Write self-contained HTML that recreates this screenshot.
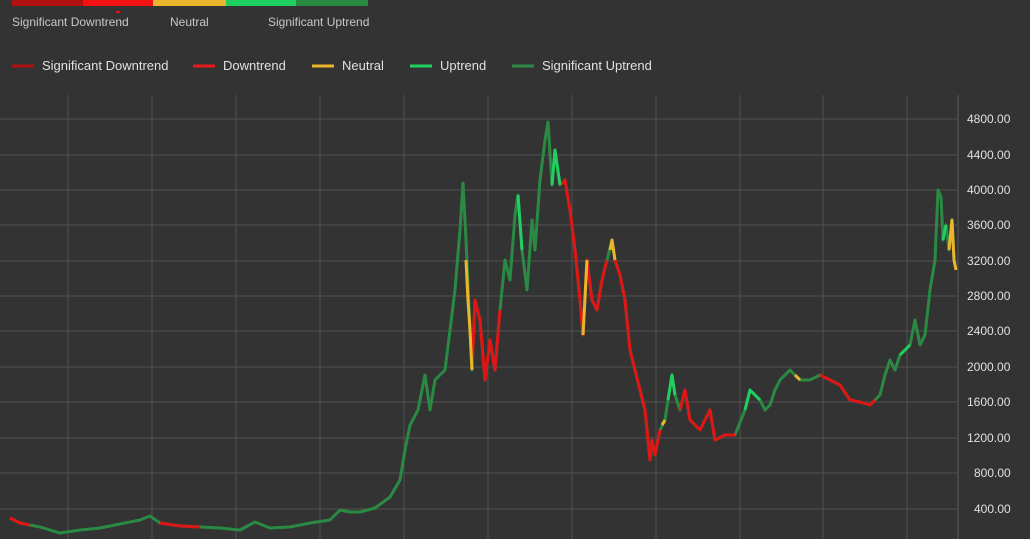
<!DOCTYPE html>
<html><head><style>
body{margin:0;background:#333;width:1030px;height:539px;overflow:hidden;font-family:"Liberation Sans",sans-serif}
</style></head><body>
<svg width="1030" height="539" xmlns="http://www.w3.org/2000/svg" style="position:absolute;left:0;top:0">
<rect width="1030" height="539" fill="#333"/>
<rect x="12" y="0" width="71" height="6" fill="#b01010"/>
<rect x="83" y="0" width="70" height="6" fill="#f21212"/>
<rect x="153" y="0" width="73" height="6" fill="#eab52a"/>
<rect x="226" y="0" width="70" height="6" fill="#1fd060"/>
<rect x="296" y="0" width="72" height="6" fill="#2a8a44"/>
<path d="M115 13 l3 -3 l3 3z" fill="#f21212"/>
<g fill="#c8c8c8" font-size="12">
<text x="12" y="26">Significant Downtrend</text>
<text x="170" y="26">Neutral</text>
<text x="268" y="26">Significant Uptrend</text>
</g>
<g stroke-width="3">
<line x1="12" y1="66" x2="34" y2="66" stroke="#b01010"/>
<line x1="193" y1="66" x2="215" y2="66" stroke="#e81a1a"/>
<line x1="312" y1="66" x2="334" y2="66" stroke="#eab52a"/>
<line x1="410" y1="66" x2="432" y2="66" stroke="#1fd060"/>
<line x1="512" y1="66" x2="534" y2="66" stroke="#2a8a44"/>
</g>
<g fill="#e0e0e0" font-size="13">
<text x="42" y="70">Significant Downtrend</text>
<text x="223" y="70">Downtrend</text>
<text x="342" y="70">Neutral</text>
<text x="440" y="70">Uptrend</text>
<text x="542" y="70">Significant Uptrend</text>
</g>
<g stroke="#505050" stroke-width="1">
<line x1="0" y1="119" x2="958" y2="119"/><line x1="0" y1="155" x2="958" y2="155"/>
<line x1="0" y1="190" x2="958" y2="190"/><line x1="0" y1="225" x2="958" y2="225"/>
<line x1="0" y1="261" x2="958" y2="261"/><line x1="0" y1="296" x2="958" y2="296"/>
<line x1="0" y1="331" x2="958" y2="331"/><line x1="0" y1="367" x2="958" y2="367"/>
<line x1="0" y1="402" x2="958" y2="402"/><line x1="0" y1="438" x2="958" y2="438"/>
<line x1="0" y1="473" x2="958" y2="473"/><line x1="0" y1="509" x2="958" y2="509"/>
<line x1="68" y1="95" x2="68" y2="539"/><line x1="152" y1="95" x2="152" y2="539"/>
<line x1="236" y1="95" x2="236" y2="539"/><line x1="320" y1="95" x2="320" y2="539"/>
<line x1="404" y1="95" x2="404" y2="539"/><line x1="488" y1="95" x2="488" y2="539"/>
<line x1="572" y1="95" x2="572" y2="539"/><line x1="656" y1="95" x2="656" y2="539"/>
<line x1="740" y1="95" x2="740" y2="539"/><line x1="823" y1="95" x2="823" y2="539"/>
<line x1="907" y1="95" x2="907" y2="539"/>
</g>
<line x1="958" y1="95" x2="958" y2="539" stroke="#585858"/>
<g fill="#e0e0e0" font-size="12">
<text x="967" y="123">4800.00</text><text x="967" y="159">4400.00</text>
<text x="967" y="194">4000.00</text><text x="967" y="229">3600.00</text>
<text x="967" y="265">3200.00</text><text x="967" y="300">2800.00</text>
<text x="967" y="335">2400.00</text><text x="967" y="371">2000.00</text>
<text x="967" y="406">1600.00</text><text x="967" y="442">1200.00</text>
<text x="974" y="477">800.00</text><text x="974" y="513">400.00</text>
</g>
<g fill="none" stroke-width="3" stroke-linejoin="round">
<polyline stroke="#2a8a44" points="10,518 20,523 40,527 60,533 80,530 100,528 120,524 140,520 150,516 160,523 180,526 200,527 220,528 240,530 255,522 270,528 290,527 310,523 330,520 340,510 350,512 360,512 375,508 390,497 400,480 405,450 410,425 418,410 425,375 430,410 435,380 445,370 450,330 455,290 460,230 463,183 466,240 470,330 472,370 475,300 480,320 485,380 490,340 495,370 500,310 505,260 510,280 515,215 518,195 522,250 527,290 532,220 535,250 540,180 545,140 548,122 552,185 555,150 560,185 565,180 570,210 575,250 580,300 583,335 587,260 592,300 597,310 602,280 607,260 612,240 615,260 620,275 625,300 630,350 635,370 640,390 645,410 650,460 652,440 655,455 660,430 665,420 668,400 672,375 675,395 680,410 685,390 690,420 700,430 710,410 715,440 725,435 735,435 745,410 750,390 760,400 765,410 770,405 775,390 780,380 790,370 800,380 810,380 820,375 830,380 840,385 850,400 860,402 870,405 880,395 885,375 890,360 895,370 900,355 910,345 915,320 920,345 925,335 930,290 935,260 938,190 941,197 943,240 946,225 949,250 952,220 954,260 956,270"/>
<g stroke="#e01515">
<polyline points="10,518 20,523 30,525"/>
<polyline points="472,370 475,300 480,320 485,380 490,340 495,370 500,310"/>
<polyline points="560,185 565,180 570,210 575,250 580,300 583,335 587,260 592,300 597,310 602,280 607,260"/>
<polyline points="615,260 620,275 625,300 630,350 635,370 640,390 645,410 650,460 652,440 655,455 660,430"/>
<polyline points="680,410 685,390 690,420 700,430 710,410 715,440 725,435 735,435"/>
<polyline points="820,375 830,380 840,385 850,400 860,402 870,405 875,400"/>
<polyline points="160,523 180,526 200,527"/>
</g>
<g stroke="#eab52a">
<polyline points="466,260 468,300 470,330 472,370"/>
<polyline points="610,250 612,240 615,260"/>
<polyline points="662,425 665,420"/>
<polyline points="795,375 800,380"/>
<polyline points="949,250 952,220 954,260 956,270"/>
<polyline points="583,335 587,260"/>
</g>
<g stroke="#1fd060">
<polyline points="518,195 522,250"/>
<polyline points="552,185 555,150 560,185"/>
<polyline points="668,400 672,375 675,395"/>
<polyline points="745,410 750,390 760,400"/>
<polyline points="900,355 910,345"/>
<polyline points="943,240 946,225"/>
</g>
</g>
</svg>
</body></html>
